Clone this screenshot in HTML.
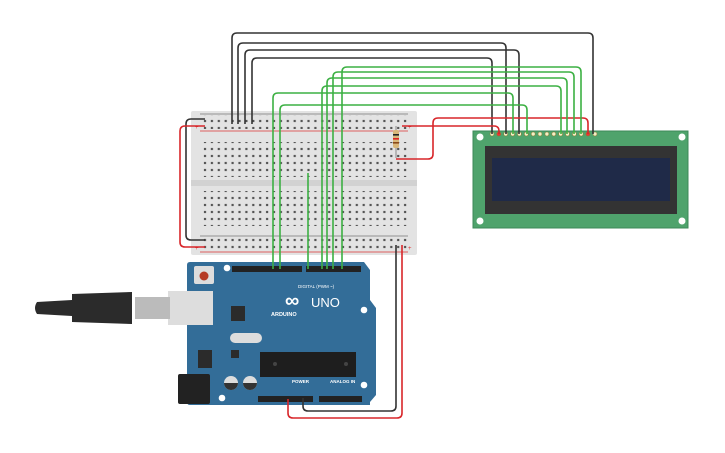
<!DOCTYPE html>
<html><head><meta charset="utf-8"><style>
html,body{margin:0;padding:0;background:#fff;}
svg{display:block;font-family:"Liberation Sans",sans-serif;}
</style></head><body>
<svg width="725" height="453" viewBox="0 0 725 453" xmlns="http://www.w3.org/2000/svg">
<defs>
<pattern id="dots" x="202" y="0" width="6.9" height="7" patternUnits="userSpaceOnUse">
<rect x="1.9" y="1.9" width="2.2" height="2.2" fill="#555"/>
</pattern>
</defs>
<!-- Breadboard -->
<rect x="191" y="111" width="226" height="144" rx="2" fill="#e3e3e3"/>
<rect x="191" y="180" width="226" height="6" fill="#d2d2d2"/>
<line x1="200" y1="114" x2="408" y2="114" stroke="#777" stroke-width="0.8"/>
<line x1="200" y1="131" x2="408" y2="131" stroke="#d33" stroke-width="0.8"/>
<line x1="200" y1="236" x2="408" y2="236" stroke="#777" stroke-width="0.8"/>
<line x1="200" y1="252" x2="408" y2="252" stroke="#d33" stroke-width="0.8"/>
<g transform="translate(0,-1)">
<rect x="202" y="116" width="207" height="14" fill="url(#dots)"/>
<rect x="202" y="143" width="207" height="35" fill="url(#dots)"/>
<rect x="202" y="192" width="207" height="35" fill="url(#dots)"/>
<rect x="202" y="238" width="207" height="14" fill="url(#dots)"/>
</g>
<text x="195" y="129" font-size="6" fill="#d33">+</text>
<text x="195" y="250" font-size="6" fill="#d33">+</text>
<text x="408" y="129" font-size="6" fill="#d33">+</text>
<text x="408" y="250" font-size="6" fill="#d33">+</text>
<!-- Resistor -->
<line x1="396" y1="126" x2="396" y2="158" stroke="#999" stroke-width="1.2"/>
<rect x="393" y="130" width="6" height="18" rx="2" fill="#d9b77a"/>
<rect x="393" y="134" width="6" height="1.6" fill="#222"/>
<rect x="393" y="138" width="6" height="1.6" fill="#d22"/>
<rect x="393" y="142" width="6" height="1.6" fill="#8a4a1a"/>

<!-- LCD -->
<rect x="473" y="131" width="215" height="97" fill="#4fa36c" stroke="#3e8a59" stroke-width="1"/>
<circle cx="480" cy="137" r="3.5" fill="#fff"/><circle cx="682" cy="137" r="3.5" fill="#fff"/>
<circle cx="480" cy="221" r="3.5" fill="#fff"/><circle cx="682" cy="221" r="3.5" fill="#fff"/>
<rect x="485" y="146" width="192" height="68" fill="#333"/>
<rect x="492" y="158" width="178" height="43" fill="#1f2a48"/>
<g fill="#f3f0c8" stroke="#8a7a30" stroke-width="0.6">
<circle cx="492" cy="134" r="2"/><circle cx="498.8" cy="134" r="2" fill="#e33"/><circle cx="505.7" cy="134" r="2"/><circle cx="512.6" cy="134" r="2"/><circle cx="519.4" cy="134" r="2"/><circle cx="526.3" cy="134" r="2"/><circle cx="533.2" cy="134" r="2"/><circle cx="540" cy="134" r="2"/><circle cx="546.9" cy="134" r="2"/><circle cx="553.8" cy="134" r="2"/><circle cx="560.6" cy="134" r="2"/><circle cx="567.5" cy="134" r="2"/><circle cx="574.4" cy="134" r="2"/><circle cx="581.2" cy="134" r="2"/><circle cx="588" cy="134" r="2" fill="#e33"/><circle cx="595" cy="134" r="2"/>
</g>

<!-- Arduino -->
<path d="M187 265 Q187 262 190 262 L364 262 L370 270 L370 300 L376 308 L376 395 L370 402 L370 405 L190 405 Q187 405 187 402 Z" fill="#336d98"/>
<rect x="232" y="266" width="70" height="6" fill="#222"/>
<rect x="306" y="266" width="55" height="6" fill="#222"/>
<rect x="258" y="396" width="55" height="6" fill="#222"/>
<rect x="319" y="396" width="43" height="6" fill="#222"/>
<circle cx="227" cy="268" r="3.3" fill="#fff"/><circle cx="364" cy="310" r="3.3" fill="#fff"/><circle cx="364" cy="385" r="3.3" fill="#fff"/><circle cx="222" cy="398" r="3.3" fill="#fff"/>
<rect x="194" y="266" width="20" height="18" rx="2" fill="#ddd"/><circle cx="204" cy="276" r="4.5" fill="#b53a24"/>
<rect x="231" y="306" width="14" height="15" fill="#2b2b2b"/>
<rect x="230" y="333" width="32" height="10" rx="5" fill="#ddd"/>
<rect x="231" y="350" width="8" height="8" fill="#2b2b2b"/>
<rect x="198" y="350" width="14" height="18" fill="#2b2b2b"/>
<rect x="260" y="352" width="96" height="25" fill="#1e1e1e"/>
<circle cx="275" cy="364" r="2" fill="#444"/><circle cx="346" cy="364" r="2" fill="#444"/>
<rect x="178" y="374" width="32" height="30" rx="2" fill="#222"/>
<circle cx="231" cy="383" r="7" fill="#ddd"/><path d="M224 383 A7 7 0 0 0 238 383 Z" fill="#333"/>
<circle cx="250" cy="383" r="7" fill="#ddd"/><path d="M243 383 A7 7 0 0 0 257 383 Z" fill="#333"/>
<text x="285" y="307" font-size="20" fill="#fff" font-weight="bold">∞</text>
<text x="271" y="316" font-size="5.5" fill="#fff" font-weight="bold">ARDUINO</text>
<text x="311" y="307" font-size="13" fill="#fff">UNO</text>
<text x="298" y="288" font-size="4.5" fill="#fff">DIGITAL (PWM ~)</text>
<text x="292" y="383" font-size="4.5" fill="#fff" font-weight="bold">POWER</text>
<text x="330" y="383" font-size="4.5" fill="#fff" font-weight="bold">ANALOG IN</text>
<!-- USB -->
<rect x="168" y="291" width="45" height="34" fill="#ddd"/>
<rect x="135" y="297" width="35" height="22" fill="#bbb"/>
<path d="M72 294 L132 292 L132 324 L72 322 Z" fill="#2b2b2b"/>
<path d="M37 302 L72 300 L72 316 L37 314 Q33 308 37 302 Z" fill="#2b2b2b"/>

<!-- Black wires -->
<g fill="none" stroke="#333" stroke-width="1.6">
<path d="M232 124 V38 Q232 33 237 33 H588 Q593 33 593 38 V134"/>
<path d="M238 124 V48 Q238 43 243 43 H501 Q506 43 506 48 V134"/>
<path d="M245 124 V55 Q245 50 250 50 H514 Q519 50 519 55 V134"/>
<path d="M252 124 V63 Q252 58 257 58 H487 Q492 58 492 63 V134"/>
<path d="M205 119 H191 Q186 119 186 124 V235 Q186 240 191 240 H205"/>
<path d="M396 245 V406 Q396 411 391 411 H308 Q303 411 303 406 V398"/>
</g>
<!-- Red wires -->
<g fill="none" stroke="#d8262a" stroke-width="1.6">
<path d="M205 126 H185 Q180 126 180 131 V242 Q180 247 185 247 H205"/>
<path d="M402 126 H494 Q499 126 499 131 V134"/>
<path d="M396 159 H428 Q433 159 433 154 V123 Q433 118 438 118 H583 Q588 118 588 123 V134"/>
<path d="M402 245 V413 Q402 418 397 418 H293 Q288 418 288 413 V399"/>
</g>
<!-- Green wires -->
<g fill="none" stroke="#3cb043" stroke-width="1.6">
<path d="M273 269 V98 Q273 93 278 93 H508 Q513 93 513 98 V134"/>
<path d="M280 269 V110 Q280 105 285 105 H522 Q527 105 527 110 V134"/>
<path d="M322 269 V91 Q322 86 327 86 H556 Q561 86 561 91 V134"/>
<path d="M327 269 V83 Q327 78 332 78 H562 Q567 78 567 83 V134"/>
<path d="M333 269 V77 Q333 72 338 72 H569 Q574 72 574 77 V134"/>
<path d="M342 269 V72 Q342 67 347 67 H576 Q581 67 581 72 V134"/>
<path d="M308 173 V269"/>
</g>
</svg>
</body></html>
